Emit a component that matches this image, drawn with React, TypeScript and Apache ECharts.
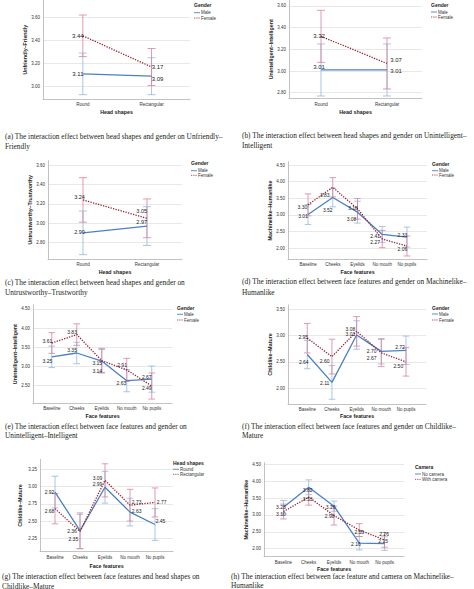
import { useEffect, useRef } from "react";
import * as echarts from "echarts";

const SANS = "'Liberation Sans', Arial, sans-serif";
const SERIF = "'Liberation Serif', 'Times New Roman', serif";
const BLUE = "#4a80c6";
const RED = "#9c1f33";
const BLUE_BAR = "#92b7e0";
const RED_BAR = "#d9829b";
const GRID = "#dedede";
const AXIS = "#b4b4b4";

const HEAD = ["Round", "Rectangular"];
const FACE = ["Baseline", "Cheeks", "Eyelids", "No mouth", "No pupils"];

// (a) Unfriendly–Friendly
const aTicks = [3.0, 3.2, 3.4, 3.6];
const aMale = [3.11, 3.09];
const aMaleErr = [0.18, 0.16];
const aFemale = [3.44, 3.17];
const aFemaleErr = [0.18, 0.16];

// (b) Unintelligent–Intelligent
const bTicks = [2.8, 3.0, 3.2, 3.4, 3.6];
const bMale = [3.01, 3.01];
const bMaleErr = [0.24, 0.24];
const bFemale = [3.32, 3.07];
const bFemaleErr = [0.24, 0.235];

// (c) Untrustworthy–Trustworthy
const cTicks = [2.8, 3.0, 3.2, 3.4, 3.6];
const cMale = [2.9, 2.97];
const cMaleErr = [0.225, 0.2];
const cFemale = [3.24, 3.05];
const cFemaleErr = [0.23, 0.2];

// (d) Machinelike–Humanlike by gender
const dTicks = [2.0, 2.5, 3.0, 3.5, 4.0, 4.5];
const dMale = [3.01, 3.52, 3.08, 2.41, 2.33];
const dMaleErr = [0.3, 0.28, 0.33, 0.24, 0.3];
const dFemale = [3.3, 3.83, 3.18, 2.27, 2.06];
const dFemaleErr = [0.33, 0.29, 0.31, 0.26, 0.3];

// (e) Unintelligent–Intelligent by face features
const eTicks = [2.5, 3.0, 3.5, 4.0, 4.5];
const eMale = [3.25, 3.35, 3.14, 2.63, 2.67];
const eMaleErr = [0.28, 0.28, 0.3, 0.29, 0.34];
const eFemale = [3.61, 3.83, 3.15, 2.91, 2.49];
const eFemaleErr = [0.27, 0.28, 0.32, 0.3, 0.34];

// (f) Childlike–Mature by gender
const fTicks = [2.0, 2.5, 3.0, 3.5];
const fMale = [2.64, 2.11, 3.01, 2.7, 2.72];
const fMaleErr = [0.27, 0.32, 0.27, 0.24, 0.27];
const fFemale = [2.95, 2.6, 3.08, 2.67, 2.5];
const fFemaleErr = [0.28, 0.33, 0.28, 0.26, 0.27];

// (g) Childlike–Mature by head shape
const gTicks = [2.25, 2.5, 2.75, 3.0, 3.25];
const gRound = [2.92, 2.36, 2.99, 2.63, 2.45];
const gRoundErr = [0.23, 0.26, 0.23, 0.2, 0.23];
const gRect = [2.68, 2.35, 3.09, 2.73, 2.77];
const gRectErr = [0.22, 0.25, 0.24, 0.23, 0.21];

// (h) Machinelike–Humanlike by camera
const hTicks = [2.0, 2.5, 3.0, 3.5, 4.0, 4.5];
const hNoCam = [3.23, 3.82, 3.26, 2.16, 2.15];
const hNoCamErr = [0.2, 0.22, 0.15, 0.2, 0.2];
const hCam = [3.1, 3.53, 2.98, 2.55, 2.26];
const hCamErr = [0.22, 0.24, 0.28, 0.19, 0.22];

interface Group {
  name: string;
  mean: number[];
  err: number[];
  dotted: boolean;
  shift: number[][];
}

interface Panel {
  cats: string[];
  ticks: number[];
  yName: string;
  xName: string;
  box: number[]; // left, top, width, height
  xRange: number[];
  yRange: number[];
  yGap: number;
  xGap: number;
  legendTitle: string;
  legendPos: number[]; // x, title y, first item y, second item y
  caption: string[];
  capPos: number[]; // x, y1, y2
  labelSize: number;
  cap: number;
  groups: Group[];
}

const male = (mean: number[], err: number[], shift: number[][]): Group => ({
  name: "Male", mean, err, dotted: false, shift,
});
const female = (mean: number[], err: number[], shift: number[][]): Group => ({
  name: "Female", mean, err, dotted: true, shift,
});

const PANELS: Panel[] = [
  {
    cats: HEAD, ticks: aTicks, yName: "Unfriendly–Friendly", xName: "Head shapes",
    box: [43, 0, 147, 99.3], xRange: [-0.58, 1.56], yRange: [2.89, 3.75], yGap: 15, xGap: 10.5,
    legendTitle: "Gender", legendPos: [194, 5, 12.7, 18],
    caption: ["(a) The interaction effect between head shapes and gender on Unfriendly–", "Friendly"],
    capPos: [5, 136, 146], labelSize: 6, cap: 4,
    groups: [
      male(aMale, aMaleErr, [[-5, 0], [6, 3]]),
      female(aFemale, aFemaleErr, [[-5, 0], [6, 0]]),
    ],
  },
  {
    cats: HEAD, ticks: bTicks, yName: "Unintelligent–Intelligent", xName: "Head shapes",
    box: [289, 0, 133, 98.7], xRange: [-0.485, 1.53], yRange: [2.745, 3.655], yGap: 16, xGap: 11,
    legendTitle: "Gender", legendPos: [431, 5, 12, 17],
    caption: ["(b) The interaction effect between head shapes and gender on Unintelligent–", "Intelligent"],
    capPos: [242, 135, 145], labelSize: 6, cap: 4,
    groups: [
      male(bMale, bMaleErr, [[-2, -3], [9, 1]]),
      female(bFemale, bFemaleErr, [[-2, 0], [9, -3.5]]),
    ],
  },
  {
    cats: HEAD, ticks: cTicks, yName: "Untrustworthy–Trustworthy", xName: "Head shapes",
    box: [48, 160.7, 134, 98.3], xRange: [-0.547, 1.547], yRange: [2.63, 3.645], yGap: 14, xGap: 10,
    legendTitle: "Gender", legendPos: [191, 163.3, 170.7, 175.3],
    caption: ["(c) The interaction effect between head shapes and gender on", "Untrustworthy–Trustworthy"],
    capPos: [5, 282, 292], labelSize: 5.5, cap: 4,
    groups: [
      male(cMale, cMaleErr, [[-3.5, -1], [-5.3, -4]]),
      female(cFemale, cFemaleErr, [[-3.5, -2.5], [-5.3, -7]]),
    ],
  },
  {
    cats: FACE, ticks: dTicks, yName: "Machinelike–Humanlike", xName: "Face features",
    box: [288, 161.7, 139, 97.6], xRange: [-0.81, 4.81], yRange: [1.66, 4.6], yGap: 16, xGap: 10.5,
    legendTitle: "Gender", legendPos: [432, 164, 170.7, 175],
    caption: ["(d) The interaction effect between face features and gender on Machinelike–", "Humanlike"],
    capPos: [242, 281.7, 292], labelSize: 5, cap: 3.3,
    groups: [
      male(dMale, dMaleErr, [[-5, 2], [-5, 12], [-6, 7], [-7, 2], [-4.5, -2]]),
      female(dFemale, dFemaleErr, [[-5.7, 2], [-8, 8], [-4.5, -1], [-7, 3], [-4.5, 3]]),
    ],
  },
  {
    cats: FACE, ticks: eTicks, yName: "Unintelligent–Intelligent", xName: "Face features",
    box: [33, 305, 139, 98.3], xRange: [-0.75, 4.81], yRange: [2.04, 4.6], yGap: 13, xGap: 10.4,
    legendTitle: "Gender", legendPos: [177, 308, 314.3, 320],
    caption: ["(e) The interaction effect between face features and gender on", "Unintelligent–Intelligent"],
    capPos: [5, 426.5, 435.5], labelSize: 5, cap: 3.3,
    groups: [
      male(eMale, eMaleErr, [[-4.4, 4], [-4.7, -3], [-4.5, 10], [-5.4, 2], [-5, -2.5]]),
      female(eFemale, eFemaleErr, [[-4.4, -2], [-4.7, -3], [-4.5, 2.6], [-4.7, -5], [-5, 2]]),
    ],
  },
  {
    cats: FACE, ticks: fTicks, yName: "Childlike–Mature", xName: "Face features",
    box: [288, 305, 138, 99], xRange: [-0.78, 4.81], yRange: [1.7, 3.58], yGap: 14, xGap: 9.7,
    legendTitle: "Gender", legendPos: [432, 308, 314, 320],
    caption: ["(f) The interaction effect between face features and gender on Childlike–", "Mature"],
    capPos: [242, 426.5, 435.5], labelSize: 5, cap: 3.3,
    groups: [
      male(fMale, fMaleErr, [[-3.5, 7], [-7.3, 1], [-6.3, -1], [-9.7, 0], [-6, -3.6]]),
      female(fFemale, fFemaleErr, [[-4, -1], [-7.3, 4], [-6.3, -2.3], [-9.7, 5.4], [-7.7, 4]]),
    ],
  },
  {
    cats: FACE, ticks: gTicks, yName: "Childlike–Mature", xName: "Face features",
    box: [40, 459.3, 133, 92.4], xRange: [-0.6, 4.72], yRange: [2.056, 3.395], yGap: 18, xGap: 12,
    legendTitle: "Head shapes", legendPos: [173, 462.7, 469.3, 474.3],
    caption: ["(g) The interaction effect between face features and head shapes on", "Childlike–Mature"],
    capPos: [2, 576.7, 586], labelSize: 5, cap: 3.3,
    groups: [
      { name: "Round", mean: gRound, err: gRoundErr, dotted: false,
        shift: [[-5.5, 0], [-8, 0], [-7.5, -3], [6.7, -1], [5.5, -3.5]] },
      { name: "Rectangular", mean: gRect, err: gRectErr, dotted: true,
        shift: [[-5.5, 2.4], [-6.7, 7.3], [-7.5, -2], [6.7, -3.5], [6.7, 0]] },
    ],
  },
  {
    cats: FACE, ticks: hTicks, yName: "Machinelike–Humanlike", xName: "Face features",
    box: [264, 462.7, 140, 94], xRange: [-0.77, 4.77], yRange: [1.76, 4.55], yGap: 12, xGap: 9.6,
    legendTitle: "Camera", legendPos: [415, 467.3, 474, 479.3],
    caption: ["(h) The interaction effect between face feature and camera on Machinelike–", "Humanlike"],
    capPos: [231, 576, 585.7], labelSize: 5, cap: 3.3,
    groups: [
      { name: "No camera", mean: hNoCam, err: hNoCamErr, dotted: false,
        shift: [[-2.5, 0], [-1, 3], [-3.3, 0.5], [-3.3, 1], [-1.5, -2.2]] },
      { name: "With camera", mean: hCam, err: hCamErr, dotted: true,
        shift: [[-2.5, 2.8], [-1, 2.3], [-4.3, 0], [0, 1.6], [-0.5, -5.6]] },
    ],
  },
];

function buildOption() {
  const grid: any[] = [];
  const xAxis: any[] = [];
  const yAxis: any[] = [];
  const series: any[] = [];
  const graphic: any[] = [];

  PANELS.forEach((p, k) => {
    const idx = p.cats.map((_, i) => i);
    grid.push({
      left: p.box[0], top: p.box[1], width: p.box[2], height: p.box[3],
      containLabel: false, outerBoundsMode: "none",
    });
    const nameStyle = { fontSize: 5.3, fontWeight: "bold", color: "#222", fontFamily: SANS };
    xAxis.push({
      type: "value", gridIndex: k, min: p.xRange[0], max: p.xRange[1],
      name: p.xName, nameLocation: "middle", nameGap: p.xGap, nameTextStyle: nameStyle,
      axisLine: { show: true, onZero: false, lineStyle: { color: AXIS, width: 0.8 } },
      axisTick: { show: false, customValues: idx },
      axisLabel: {
        customValues: idx, formatter: (v: number) => p.cats[Math.round(v)] ?? "",
        fontSize: 4.5, color: "#333", margin: 3, fontFamily: SANS,
      },
      splitLine: { show: false },
    });
    yAxis.push({
      type: "value", gridIndex: k, min: p.yRange[0], max: p.yRange[1],
      name: p.yName, nameLocation: "middle", nameRotate: 90, nameGap: p.yGap, nameTextStyle: nameStyle,
      axisLine: { show: true, onZero: false, lineStyle: { color: AXIS, width: 0.8 } },
      axisTick: { show: false, customValues: p.ticks },
      axisLabel: {
        customValues: p.ticks, formatter: (v: number) => v.toFixed(2),
        fontSize: 4.5, color: "#333", margin: 3, fontFamily: SANS,
      },
      splitLine: { show: true, lineStyle: { color: GRID, width: 0.7 } },
    });

    p.groups.forEach((g) => {
      const lineColor = g.dotted ? RED : BLUE;
      const barColor = g.dotted ? RED_BAR : BLUE_BAR;
      series.push({
        type: "custom", xAxisIndex: k, yAxisIndex: k, z: 2, silent: true,
        data: g.mean.map((m, i) => [i, m - g.err[i], m + g.err[i]]),
        encode: { x: 0, y: [1, 2] },
        renderItem: (_params: any, api: any) => {
          const x = api.value(0);
          const top = api.coord([x, api.value(2)]);
          const bot = api.coord([x, api.value(1)]);
          const style = { stroke: barColor, lineWidth: 0.8 };
          return {
            type: "group",
            children: [
              { type: "line", shape: { x1: top[0], y1: top[1], x2: bot[0], y2: bot[1] }, style },
              { type: "line", shape: { x1: top[0] - p.cap, y1: top[1], x2: top[0] + p.cap, y2: top[1] }, style },
              { type: "line", shape: { x1: bot[0] - p.cap, y1: bot[1], x2: bot[0] + p.cap, y2: bot[1] }, style },
            ],
          };
        },
      });
      series.push({
        type: "line", name: g.name, xAxisIndex: k, yAxisIndex: k, z: 3, silent: true,
        symbol: "none", data: g.mean.map((m, i) => [i, m]),
        lineStyle: { color: lineColor, width: 1.3, type: g.dotted ? "dotted" : "solid" },
      });
      series.push({
        type: "custom", xAxisIndex: k, yAxisIndex: k, z: 4, silent: true,
        data: g.mean.map((m, i) => [i, m]),
        encode: { x: 0, y: 1 },
        renderItem: (params: any, api: any) => {
          const pt = api.coord([api.value(0), api.value(1)]);
          const s = g.shift[params.dataIndex];
          return {
            type: "text", x: pt[0] + s[0], y: pt[1] + s[1],
            style: {
              text: api.value(1).toFixed(2), align: "center", verticalAlign: "middle",
              fontSize: p.labelSize, fill: "#222", fontFamily: SANS,
            },
          };
        },
      });
    });

    // legend
    const [lx, ty, y1, y2] = p.legendPos;
    graphic.push({
      type: "text", x: lx, y: ty, silent: true,
      style: { text: p.legendTitle, fontSize: 5, fontWeight: "bold", fill: "#222", verticalAlign: "middle", fontFamily: SANS },
    });
    p.groups.forEach((g, j) => {
      const yy = j === 0 ? y1 : y2;
      graphic.push({
        type: "line", silent: true,
        shape: { x1: lx, y1: yy, x2: lx + 6, y2: yy },
        style: { stroke: g.dotted ? RED : BLUE, lineWidth: 0.9, lineDash: g.dotted ? [0.9, 0.9] : null },
      });
      graphic.push({
        type: "text", x: lx + 7, y: yy, silent: true,
        style: { text: g.name, fontSize: 4.5, fill: "#333", verticalAlign: "middle", fontFamily: SANS },
      });
    });

    // caption
    p.caption.forEach((line, j) => {
      graphic.push({
        type: "text", x: p.capPos[0], y: p.capPos[1 + j], silent: true,
        style: { text: line, fontSize: 7.35, fill: "#231f20", verticalAlign: "middle", fontFamily: SERIF },
      });
    });
  });

  return {
    animation: false,
    backgroundColor: "#ffffff",
    textStyle: { fontFamily: SANS },
    grid, xAxis, yAxis, series, graphic,
  };
}

export default function App() {
  const ref = useRef<HTMLDivElement>(null);

  useEffect(() => {
    if (!ref.current) return;
    const chart = echarts.init(ref.current, undefined, { renderer: "svg" });
    chart.setOption(buildOption());
    return () => chart.dispose();
  }, []);

  return (
    <div
      ref={ref}
      style={{ position: "fixed", left: 0, top: 0, width: 474, height: 589, background: "#fff" }}
    />
  );
}
